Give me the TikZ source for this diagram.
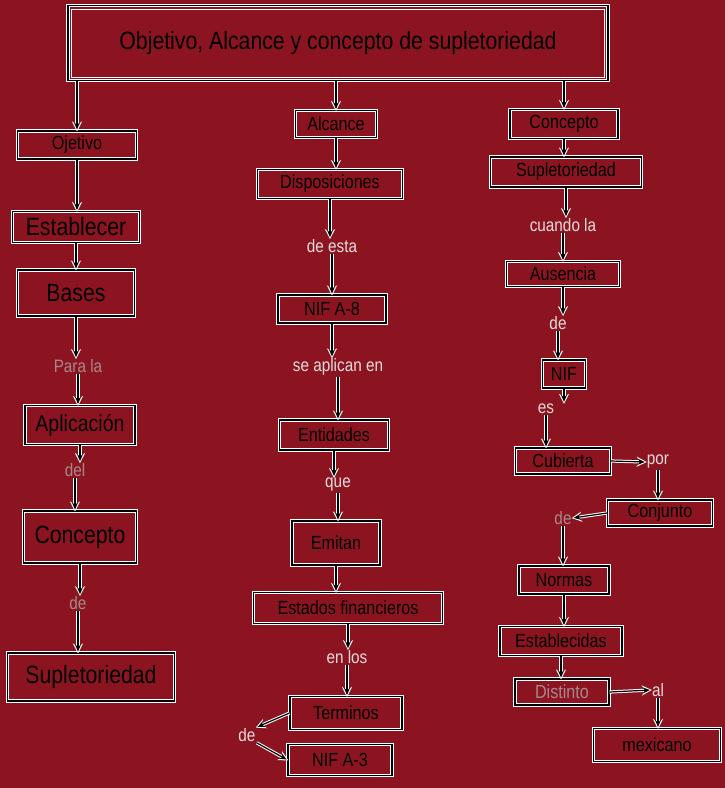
\documentclass[tikz,border=0pt]{standalone}
\usepackage{fontspec}
\setmainfont[FakeStretch=0.85]{Liberation Sans}
\usetikzlibrary{arrows.meta,calc}
\definecolor{bg}{HTML}{8C1420}
\definecolor{lbl}{HTML}{E6DCDC}
\definecolor{lblg}{HTML}{A8888C}
\tikzset{
 bx/.style={draw=white,double=black,double distance=1.2pt,line width=1pt,fill=bg,text=black,inner sep=0pt,font=\fontsize{19}{21}\selectfont},
 lb/.style={text=lbl,inner sep=1pt,font=\fontsize{18}{20}\selectfont},
 lbg/.style={lb,text=lblg},
 aout/.style={draw=white,line width=3.2pt,-{Stealth[length=10pt,width=10pt]},shorten >=-1pt},
 ain/.style={draw=black,line width=1.2pt,-{Stealth[length=7pt,width=6pt]},shorten >=1pt}
}
\newcommand\arr[1]{\draw[aout] #1; \draw[ain] #1;}
\newcommand\varr[2]{\arr{(#1.south) -- (#1.south |- #2.north)}}
\begin{document}
\begin{tikzpicture}[x=1pt,y=-1pt]
\fill[bg] (0,0) rectangle (725,788);
\useasboundingbox (0,0) rectangle (725,788);
\node[bx,minimum width=540,minimum height=75,font=\fontsize{25}{27}\selectfont] (t) at (338,43) {Objetivo, Alcance y concepto de supletoriedad};
\draw[white,line width=1pt] ($(t.south west)+(4,-4)$) rectangle ($(t.north east)+(-4,4)$);
% col1
\node[bx,minimum width=119,minimum height=28] (a1) at (77,145) {Ojetivo};
\node[bx,minimum width=127,minimum height=31,font=\fontsize{25}{27}\selectfont] (a2) at (76,227) {Establecer};
\node[bx,minimum width=117,minimum height=46,font=\fontsize{25}{27}\selectfont] (a3) at (76,293) {Bases};
\node[lbg] (l1) at (78,366) {Para la};
\node[bx,minimum width=110,minimum height=39,font=\fontsize{23}{25}\selectfont] (a4) at (80,425) {Aplicación};
\node[lbg] (l2) at (75,470) {del};
\node[bx,minimum width=113,minimum height=52,font=\fontsize{25}{27}\selectfont] (a5) at (80,537) {Concepto};
\node[lbg] (l3) at (78,603) {de};
\node[bx,minimum width=167,minimum height=48,font=\fontsize{25}{27}\selectfont] (a6) at (91,677) {Supletoriedad};
% col2
\node[bx,minimum width=81,minimum height=27] (b1) at (336,124) {Alcance};
\node[bx,minimum width=145,minimum height=29] (b2) at (330,184) {Disposiciones};
\node[lb] (m1) at (332,246) {de esta};
\node[bx,minimum width=108,minimum height=28] (b3) at (332,309) {NIF A-8};
\node[lb] (m2) at (338,367) {se aplican en};
\node[bx,minimum width=109,minimum height=30] (b4) at (334,435) {Entidades};
\node[lb] (m3) at (338,485) {que};
\node[bx,minimum width=88,minimum height=44] (b5) at (336,543) {Emitan};
\node[bx,minimum width=189,minimum height=31] (b6) at (348,608) {Estados financieros};
\node[lb] (m4) at (347,657) {en los};
\node[bx,minimum width=112,minimum height=33] (b7) at (346,713) {Terminos};
\node[lb] (m5) at (247,735) {de};
\node[bx,minimum width=104,minimum height=31] (b8) at (340,760) {NIF A-3};
% col3
\node[bx,minimum width=108,minimum height=29] (c1) at (564,124) {Concepto};
\node[bx,minimum width=151,minimum height=30] (c2) at (566,172) {Supletoriedad};
\node[lb] (n1) at (563,225) {cuando la};
\node[bx,minimum width=113,minimum height=25] (c3) at (563,274) {Ausencia};
\node[lb] (n2) at (558,323) {de};
\node[bx,minimum width=43,minimum height=28] (c4) at (564,374) {NIF};
\node[lb] (n3) at (546,409) {es};
\node[bx,minimum width=95,minimum height=26] (c5) at (563,461) {Cubierta};
\node[lb] (n4) at (658,462) {por};
\node[bx,minimum width=105,minimum height=26] (c6) at (660,513) {Conjunto};
\node[lbg] (n5) at (563,518) {de};
\node[bx,minimum width=90,minimum height=28] (c7) at (564,580) {Normas};
\node[bx,minimum width=122,minimum height=29] (c8) at (561,641) {Establecidas};
\node[bx,minimum width=94,minimum height=26,text=lblg] (c9) at (562,692) {Distinto};
\node[lb] (n6) at (658,690) {al};
\node[bx,minimum width=127,minimum height=33] (c10) at (657,745) {mexicano};
% arrows
\arr{(t.south -| a1) -- (a1.north)}
\varr{a1}{a2}
\varr{a2}{a3}
\varr{a3}{l1}
\varr{l1}{a4}
\varr{a4}{l2}
\varr{l2}{a5}
\varr{a5}{l3}
\varr{l3}{a6}
\arr{(t.south -| b1) -- (b1.north)}
\varr{b1}{b2}
\varr{b2}{m1}
\varr{m1}{b3}
\varr{b3}{m2}
\varr{m2}{b4}
\varr{b4}{m3}
\varr{m3}{b5}
\varr{b5}{b6}
\varr{b6}{m4}
\varr{m4}{b7}
\arr{(b7.west) -- (m5.north east)}
\arr{(m5.south east) -- (b8.west)}
\arr{(t.south -| c1) -- (c1.north)}
\varr{c1}{c2}
\varr{c2}{n1}
\varr{n1}{c3}
\varr{c3}{n2}
\varr{n2}{c4}
\varr{c4}{n3}
\varr{n3}{c5}
\arr{(c5.east) -- (n4.west)}
\varr{n4}{c6}
\arr{(c6.west) -- (n5.east)}
\varr{n5}{c7}
\varr{c7}{c8}
\varr{c8}{c9}
\arr{(c9.east) -- (n6.west)}
\varr{n6}{c10}
\end{tikzpicture}
\end{document}
